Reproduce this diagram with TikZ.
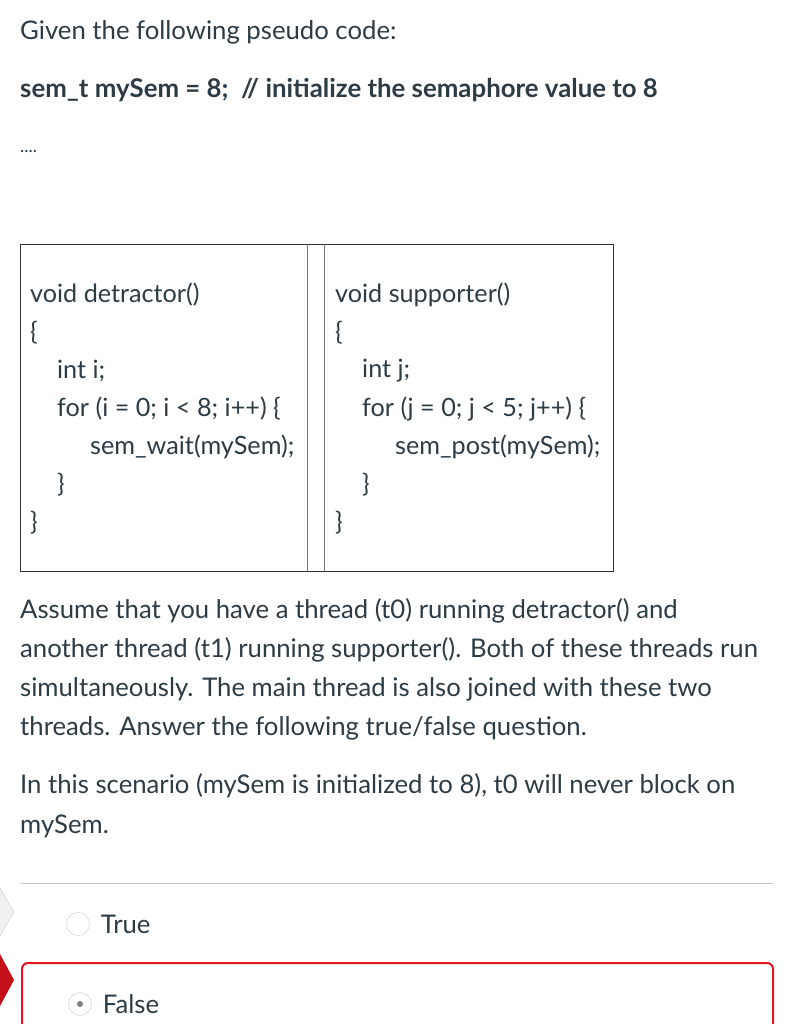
\documentclass[tikz,border=0pt]{standalone}
\usepackage{fontspec}
\setmainfont{Lato}
\usepackage{xcolor}
\definecolor{TextDark}{RGB}{45,59,69}
\definecolor{RuleGray}{RGB}{200,200,200}
\definecolor{AnswerRed}{RGB}{230,20,30}
\usetikzlibrary{positioning}
\tikzset{
  % body text line
  txt/.style={anchor=west, inner sep=0pt, text=TextDark, font=\fontsize{25.7}{29}\selectfont},
  % bold line
  btxt/.style={txt, font=\fontsize{25.8}{29}\selectfont\bfseries},
  % code line
  code/.style={txt, font=\fontsize{25.2}{29}\selectfont},
  % radio button
  radio/.style={circle, draw=RuleGray, fill=white, minimum size=23pt, inner sep=0pt}
}
\begin{document}
\begin{tikzpicture}[x=1pt,y=-1pt]
  \useasboundingbox (0,0) rectangle (798,1024);

  \node[txt] (given) at (20,32) {Given the following pseudo code:};
  \node[btxt] (decl) at (20,90) {sem\_t mySem = 8;\ \ // initialize the semaphore value to 8};
  \node[txt] (dots) at (20,152) {\fontsize{18}{20}\selectfont ....};

  % code table
  \draw[black!80, line width=1pt] (20,244) rectangle (613,571);
  \draw[black!55] (307,244) -- (307,571);
  \draw[black!55] (324,244) -- (324,571);

  % left cell
  \node[code] (dl1) at (30,295) {void detractor()};
  \node[code] (dl2) at (30,333) {\{};
  \node[code] (dl3) at (57,371) {int i;};
  \node[code] (dl4) at (57,409) {for (i = 0; i < 8; i++) \{};
  \node[code] (dl5) at (90,447) {sem\_wait(mySem);};
  \node[code] (dl6) at (57,485) {\}};
  \node[code] (dl7) at (30,523) {\}};

  % right cell
  \node[code] (sl1) at (335,295) {void supporter()};
  \node[code] (sl2) at (335,333) {\{};
  \node[code] (sl3) at (362,371) {int j;};
  \node[code] (sl4) at (362,409) {for (j = 0; j < 5; j++) \{};
  \node[code] (sl5) at (395,447) {sem\_post(mySem);};
  \node[code] (sl6) at (362,485) {\}};
  \node[code] (sl7) at (335,523) {\}};

  % question text
  \node[txt] (q1) at (20,611) {Assume that you have a thread (t0) running detractor() and};
  \node[txt] (q2) at (20,650) {another thread (t1) running supporter(). Both of these threads run};
  \node[txt] (q3) at (20,689) {simultaneously. The main thread is also joined with these two};
  \node[txt] (q4) at (20,728) {threads. Answer the following true/false question.};
  \node[txt] (q5) at (20,786) {In this scenario (mySem is initialized to 8), t0 will never block on};
  \node[txt] (q6) at (20,826) {mySem.};

  \draw[RuleGray, line width=1pt] (20,883) -- (773,883);

  % answers
  \fill[gray!12] (0,888) -- (14,912) -- (0,936) -- cycle;
  \draw[gray!40] (0,888) -- (14,912) -- (0,936);
  \node[radio] (rtrue) at (78,924) {};
  \node[txt, right=11pt of rtrue] (ltrue) {True};

  \draw[AnswerRed, line width=2pt, rounded corners=6pt] (22,1030) |- (773,963) -- (773,1030);
  \fill[AnswerRed!85!black] (0,954) -- (14,980) -- (0,1006) -- cycle;
  \node[radio] (rfalse) at (80,1004) {};
  \fill[gray] (rfalse) circle (3pt);
  \node[txt, right=11pt of rfalse] (lfalse) {False};
\end{tikzpicture}
\end{document}
